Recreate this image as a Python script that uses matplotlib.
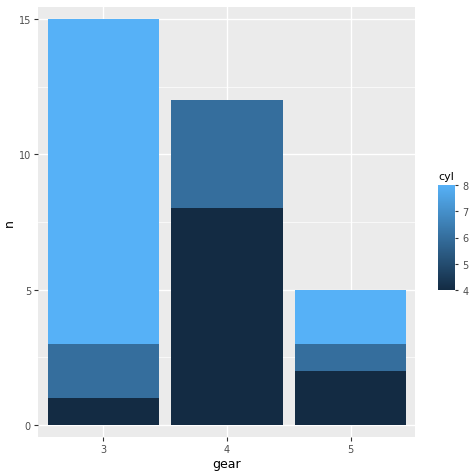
import matplotlib
matplotlib.use("Agg")
import matplotlib.pyplot as plt
import numpy as np
from matplotlib.colors import LinearSegmentedColormap, Normalize
from matplotlib.cm import ScalarMappable

gears = ["3", "4", "5"]
cyl4 = [1, 8, 2]
cyl6 = [2, 4, 1]
cyl8 = [12, 0, 2]

cmap = LinearSegmentedColormap.from_list("gg", ["#132B43", "#56B1F7"])
norm = Normalize(4, 8)

fig = plt.figure(figsize=(4.74, 4.77), dpi=100)
ax = fig.add_axes([0.08, 0.082, 0.795, 0.901])
ax.set_facecolor("#EBEBEB")
x = np.arange(len(gears))
bottom = np.zeros(3)
for vals, c in [(cyl4, 4), (cyl6, 6), (cyl8, 8)]:
    ax.bar(x, vals, bottom=bottom, width=0.9, color=cmap(norm(c)), zorder=3)
    bottom += np.array(vals)
ax.set_xlim(-0.53, 2.52)
ax.set_ylim(-0.44, 15.44)
ax.set_yticks([0, 5, 10, 15])
ax.set_yticks([2.5, 7.5, 12.5], minor=True)
ax.set_xticks(x)
ax.set_xticklabels(gears)
ax.grid(True, which="major", color="white", lw=1.0, zorder=0)
ax.grid(True, which="minor", axis="y", color="white", lw=0.5, zorder=0)
ax.tick_params(which="both", color="#333333", labelcolor="#4D4D4D", labelsize=7, length=3, pad=2)
ax.tick_params(which="minor", length=0)
for s in ax.spines.values():
    s.set_visible(False)
ax.set_xlabel("gear", fontsize=9, labelpad=2)
ax.set_ylabel("n", fontsize=9, labelpad=2)

cax = fig.add_axes([0.925, 0.39, 0.035, 0.22])
cb = fig.colorbar(ScalarMappable(norm=norm, cmap=cmap), cax=cax, ticks=[4, 5, 6, 7, 8])
cb.outline.set_visible(False)
cax.tick_params(labelsize=7, colors="#333333", length=2)
cax.tick_params(labelcolor="#4D4D4D")
cax.set_title("cyl", fontsize=8, loc="left", pad=4)
fig.savefig("out.png", dpi=100)
